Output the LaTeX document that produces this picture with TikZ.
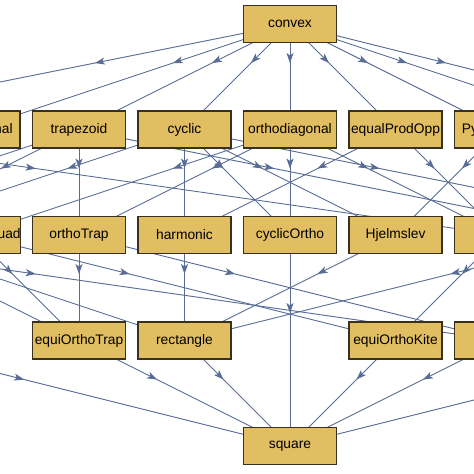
\documentclass[tikz,border=0pt]{standalone}
\usepackage{fontspec}
\setmainfont{Liberation Sans}
\usetikzlibrary{arrows.meta,decorations.markings,backgrounds}
\definecolor{boxfill}{RGB}{226,190,98}
\definecolor{boxline}{RGB}{58,48,30}
\definecolor{edgecol}{RGB}{88,108,150}
\tikzset{
quad/.style={draw=boxline,fill=boxfill,line width=1.1pt,minimum width=93pt,minimum height=37pt,inner sep=0pt,font=\fontsize{13.8}{16}\selectfont},
hasse/.style={draw=edgecol,line width=0.9pt,postaction={decorate},decoration={markings,mark=at position 0.37 with {\arrow{Stealth[length=10pt,width=7pt,inset=2.5pt]}}}}
}
\begin{document}
\begin{tikzpicture}[x=105.5pt,y=-105.5pt]
\useasboundingbox (0.2512,-0.2275) rectangle (4.744,4.265);
\node[quad] (convex) at (3,0) {convex};
\foreach \c/\n/\t in {0/equidiagonal/equidiagonal,1/trapezoid/trapezoid,2/cyclic/cyclic,3/orthodiagonal/orthodiagonal,4/equalProdOpp/equalProdOpp,5/pythagorean/Pythagorean} % edit here for row 1
\node[quad] (\n) at (\c,1) {\t};
\foreach \c/\n/\t in {0/equiOrthoQuad/equiOrthoQuad,1/orthoTrap/orthoTrap,2/harmonic/harmonic,3/cyclicOrtho/cyclicOrtho,4/hjelmslev/Hjelmslev,5/kite/} % edit here for row 2
\node[quad] (\n) at (\c,2) {\t};
\foreach \c/\n/\t in {1/equiOrthoTrap/equiOrthoTrap,2/rectangle/rectangle,4/equiOrthoKite/equiOrthoKite,5/rhombus/} % edit here for row 3
\node[quad] (\n) at (\c,3) {\t};
\node[quad] (square) at (3,4) {square};
% ends outside the frame
\foreach \c/\r/\n in {-2/1/offLa,6/1/offRa,7/1/offRb,-1/2/offLb,-2/2/offLc,6/2/offRc,7/2/offRd,-1/3/offLd,7/3/offRe}
\coordinate (\n) at (\c,\r);
\begin{scope}[on background layer]
\foreach \a/\b in {convex/offLa,convex/equidiagonal,convex/trapezoid,convex/cyclic,convex/orthodiagonal,convex/equalProdOpp,convex/pythagorean,convex/offRa,convex/offRb} % edit here for row 0 to 1
\draw[hasse] (\a.center) -- (\b.center);
\foreach \a/\b in {trapezoid/orthoTrap,trapezoid/offLb,trapezoid/offLc,trapezoid/offRc,cyclic/harmonic,cyclic/offLb,cyclic/cyclicOrtho,cyclic/hjelmslev,cyclic/offRd,orthodiagonal/cyclicOrtho,orthodiagonal/orthoTrap,orthodiagonal/equiOrthoQuad,orthodiagonal/kite,equalProdOpp/harmonic,equalProdOpp/kite,pythagorean/hjelmslev,offLa/kite} % edit here for row 1 to 2
\draw[hasse] (\a.center) -- (\b.center);
\foreach \a/\b in {orthoTrap/equiOrthoTrap,harmonic/rectangle,equiOrthoQuad/equiOrthoTrap,equiOrthoQuad/equiOrthoKite,hjelmslev/rectangle,kite/equiOrthoKite,orthoTrap/rhombus,offRc/rectangle,offLc/rhombus,offLb/rectangle,offLb/equiOrthoTrap} % edit here for row 2 to 3
\draw[hasse] (\a.center) -- (\b.center);
\foreach \a/\b in {cyclicOrtho/square,equiOrthoTrap/square,rectangle/square,equiOrthoKite/square,rhombus/square,offLd/square,offRe/square} % edit here for the square
\draw[hasse] (\a.center) -- (\b.center);
\end{scope}
\end{tikzpicture}
\end{document}
